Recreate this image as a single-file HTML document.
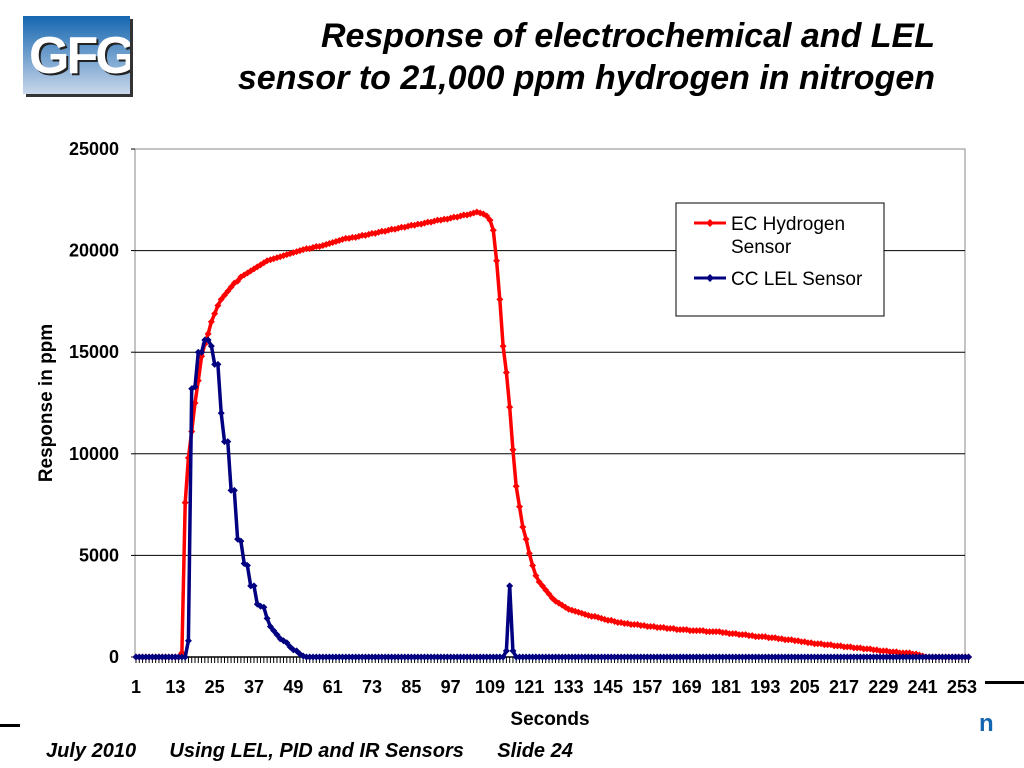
<!DOCTYPE html>
<html><head><meta charset="utf-8">
<style>
body{margin:0;width:1024px;height:768px;background:#fff;overflow:hidden;font-family:"Liberation Sans",Arial,sans-serif;}
.t{position:absolute;font-weight:bold;font-style:italic;}
</style></head>
<body>
<div style="position:absolute;left:23px;top:16px;width:107px;height:78px;background:linear-gradient(#1566b0,#c9d7ea);box-shadow:3px 3px 0 #333;overflow:hidden;">
<div style="position:absolute;left:6px;top:12px;width:99px;height:56px;color:#fff;font:bold 52px/56px 'Liberation Sans',sans-serif;letter-spacing:-3px;text-shadow:2px 2px 0 #222;">GFG</div></div>
<div class="t" style="right:89px;top:15px;font-size:34px;line-height:42px;text-align:right;white-space:nowrap;">Response of electrochemical and LEL<br>sensor to 21,000 ppm hydrogen in nitrogen</div>
<div class="t" style="left:46px;top:740px;font-size:20px;white-space:pre;">July 2010      Using LEL, PID and IR Sensors      Slide 24</div>
<div style="position:absolute;left:0;top:724px;width:20px;height:3px;background:#000"></div>
<div style="position:absolute;left:985px;top:681px;width:39px;height:3px;background:#000"></div>
<div style="position:absolute;left:979px;top:710px;color:#1566b0;font:bold 24px 'Liberation Sans',sans-serif;">n</div>
<svg id="chart" width="1024" height="768" style="position:absolute;left:0;top:0"></svg>
<script>
const categoryCount = 255;
const yTicks = [0,5000,10000,15000,20000,25000];
const xTickLabels = [1,13,25,37,49,61,73,85,97,109,121,133,145,157,169,181,193,205,217,229,241,253];
const ecSensor = [0,0,0,0,0,0,0,0,0,0, 0,0,0,0,200,7600,9800,11100,12500,13600,
14800,15400,15900,16500,16900,17300,17600,17800,18000,18200,
18400,18500,18700,18800,18900,19000,19100,19200,19300,19400,
19500,19550,19600,19650,19700,19750,19800,19850,19900,19950,
20000,20050,20100,20100,20150,20200,20200,20250,20300,20350,
20400,20450,20500,20550,20600,20600,20650,20650,20700,20750,
20750,20800,20850,20850,20900,20950,20950,21000,21050,21050,
21100,21150,21150,21200,21250,21250,21300,21300,21350,21400,
21400,21450,21500,21500,21550,21550,21600,21650,21650,21700,
21750,21750,21800,21850,21900,21850,21800,21700,21500,21000,
19500,17600,15300,14000,12300,10200,8400,7400,6400,5800,
5100,4500,4000,3700,3500,3300,3100,2900,2750,2650,
2550,2450,2350,2300,2250,2200,2150,2100,2050,2000,
2000,1950,1900,1850,1800,1800,1750,1700,1700,1650,
1650,1600,1600,1600,1550,1550,1500,1500,1500,1450,
1450,1450,1400,1400,1400,1350,1350,1350,1350,1300,
1300,1300,1300,1300,1250,1250,1250,1250,1250,1200,
1200,1150,1150,1150,1100,1100,1100,1050,1050,1000,
1000,1000,1000,950,950,950,900,900,850,850,
850,800,800,750,750,700,700,650,650,650,
600,600,600,550,550,550,500,500,500,450,
450,450,400,400,400,350,350,300,300,300,
250,250,250,200,200,200,200,150,150,100,
50,0,0,0,0,0,0,0,0,0, 0,0,0,0,0];
const lelSensor = [0,0,0,0,0,0,0,0,0,0, 0,0,0,0,0,0,800,13200,13300,15000,
15000,15600,15600,15300,14400,14400,12000,10600,10600,8200,
8200,5800,5700,4600,4500,3500,3500,2600,2500,2450,
1900,1500,1300,1100,900,800,700,500,350,300,
150,50,0,0,0,0,0,0,0,0,
0,0,0,0,0,0,0,0,0,0, 0,0,0,0,0,0,0,0,0,0,
0,0,0,0,0,0,0,0,0,0, 0,0,0,0,0,0,0,0,0,0,
0,0,0,0,0,0,0,0,0,0, 0,0,0,300,3500,300,0,0,0,0];
const svg = document.getElementById('chart');
const NS = 'http://www.w3.org/2000/svg';
const L=135,R=965,T=149,B=657;
const step=(962-136)/252;
function xPos(i){return 136+(i-1)*step;}
function yPos(v){return B-(v/25000)*(B-T);}
function mk(tag,attrs,parent){const e=document.createElementNS(NS,tag);for(const k in attrs)e.setAttribute(k,attrs[k]);(parent||svg).appendChild(e);return e;}
const frame=mk('rect',{x:L,y:T,width:R-L,height:B-T,fill:'#fff',stroke:'#888','stroke-width':1});


yTicks.forEach(v=>{
  if(v>0&&v<25000){const g=mk('line',{x1:L,x2:R,y1:yPos(v),y2:yPos(v),stroke:'#000','stroke-width':1});
  
  }
  const t=mk('text',{x:119,y:yPos(v)+6,'text-anchor':'end','font-size':18,'font-weight':'bold','font-family':'Liberation Sans, sans-serif'});
  t.textContent=v;
  
  
  mk('line',{x1:L-4,x2:L,y1:yPos(v),y2:yPos(v),stroke:'#000'});
});
mk('line',{x1:L,x2:R,y1:B,y2:B,stroke:'#000','stroke-width':1.5});
for(let i=1;i<=categoryCount;i++){mk('line',{x1:xPos(i),x2:xPos(i),y1:B,y2:B+6,stroke:'#000','stroke-width':1});}
xTickLabels.forEach(c=>{
  const t=mk('text',{x:xPos(c),y:693,'text-anchor':'middle','font-size':18,'font-weight':'bold','font-family':'Liberation Sans, sans-serif'});
  t.textContent=c;
  
  
});
const xt=mk('text',{x:550,y:725,'text-anchor':'middle','font-size':19,'font-weight':'bold','font-family':'Liberation Sans, sans-serif'});
xt.textContent='Seconds';


const yt=mk('text',{x:0,y:0,'text-anchor':'middle','font-size':19,'font-weight':'bold','font-family':'Liberation Sans, sans-serif',transform:'translate(52,403) rotate(-90)'});
yt.textContent='Response in ppm';


function series(data,color,name){
  const g=mk('g',{});
  
  
  const vals=data.slice();
  while(vals.length<categoryCount)vals.push(0);
  const pts=vals.map((v,i)=>xPos(i+1).toFixed(1)+','+yPos(v).toFixed(1)).join(' ');
  mk('polyline',{points:pts,fill:'none',stroke:color,'stroke-width':3.5,'stroke-linejoin':'round'},g);
  vals.forEach((v,i)=>{const x=xPos(i+1),y=yPos(v);
    mk('path',{d:`M${x-3.5},${y}L${x},${y-3.5}L${x+3.5},${y}L${x},${y+3.5}Z`,fill:color},g);});
}
series(ecSensor,'#ff0000','ec-hydrogen-series');
series(lelSensor,'#000080','cc-lel-series');
const lg=mk('g',{});


mk('rect',{x:676,y:203,width:208,height:113,fill:'#fff',stroke:'#000'},lg);
[[223,'#ff0000',['EC Hydrogen','Sensor']],[278,'#000080',['CC LEL Sensor']]].forEach(([y,c,lines])=>{
  mk('line',{x1:694,x2:726,y1:y,y2:y,stroke:c,'stroke-width':3},lg);
  mk('path',{d:`M706,${y}L710,${y-4}L714,${y}L710,${y+4}Z`,fill:c},lg);
  lines.forEach((s,k)=>{const t=mk('text',{x:731,y:y+7+k*23,'font-size':19,'font-family':'Liberation Sans, sans-serif'},lg);t.textContent=s;
    
    });
});
</script>
</body></html>
